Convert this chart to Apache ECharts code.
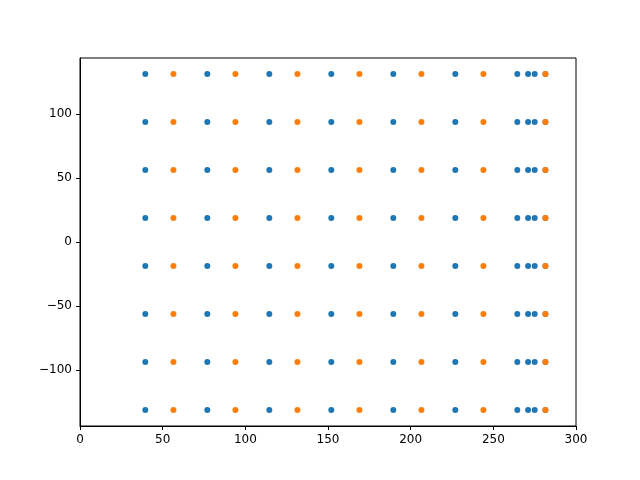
<!DOCTYPE html>
<html>
<head>
<meta charset="utf-8">
<script src="https://cdn.jsdelivr.net/npm/echarts@6/dist/echarts.min.js"></script>
</head>
<body style="margin:0">
<div id="chart" style="width:640px;height:480px"></div>
<script>
var rows = [-131.25, -93.75, -56.25, -18.75, 18.75, 56.25, 93.75, 131.25];
var blueX = [39.5, 77, 114.5, 152, 189.5, 227, 264.5, 271, 275, 281.5];
var orangeX = [56.5, 94, 131.5, 169, 206.5, 244, 281.5];
var xTicks = [0, 50, 100, 150, 200, 250, 300];
var yTicks = [-100, -50, 0, 50, 100];

function grid(xs) {
    var out = [];
    xs.forEach(function (x) {
        rows.forEach(function (y) { out.push([x, y]); });
    });
    return out;
}

var axisCommon = {
    axisLine: { show: true, onZero: false, lineStyle: { color: '#000', width: 1 } },
    axisTick: { show: true, inside: false, length: 4, lineStyle: { color: '#000' } },
    axisLabel: { color: '#000', fontSize: 12, fontFamily: 'DejaVu Sans' },
    splitLine: { show: false }
};

var option = {
    animation: false,
    grid: { left: 80, right: 64, top: 58, bottom: 54, show: true, borderColor: '#000', borderWidth: 1 },
    xAxis: Object.assign({
        type: 'value', min: 0, max: 300, interval: 50
    }, axisCommon),
    yAxis: Object.assign({}, axisCommon, {
        type: 'value', min: -143.75, max: 143.75,
        axisTick: { show: true, length: 4, lineStyle: { color: '#000' }, customValues: yTicks },
        axisLabel: {
            color: '#000', fontSize: 12, fontFamily: 'DejaVu Sans', customValues: yTicks,
            formatter: function (v) { return v < 0 ? '\u2212' + Math.abs(v) : String(v); }
        }
    }),
    series: [
        { type: 'scatter', data: grid(blueX), symbolSize: 6, itemStyle: { color: '#1f77b4', opacity: 1 } },
        { type: 'scatter', data: grid(orangeX), symbolSize: 6, itemStyle: { color: '#ff7f0e', opacity: 1 } }
    ]
};

echarts.init(document.getElementById('chart')).setOption(option);
</script>
</body>
</html>
